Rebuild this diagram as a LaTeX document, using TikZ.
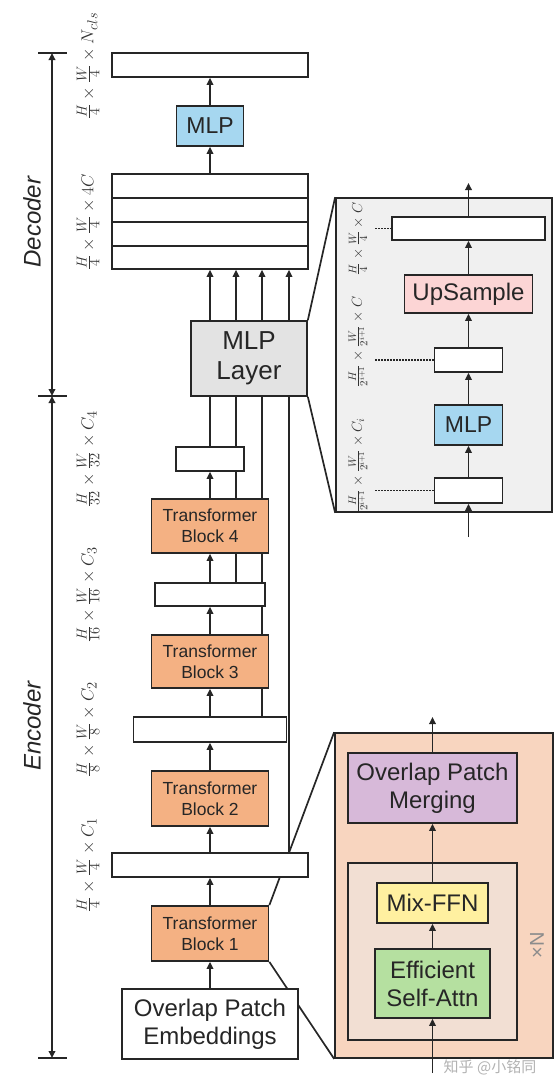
\documentclass[tikz,border=0pt]{standalone}
\usepackage[no-math]{fontspec}
\setmainfont{Liberation Sans}
\newfontfamily\cjk{Noto Sans CJK SC}
\usetikzlibrary{arrows.meta,calc}
\definecolor{cOrange}{HTML}{F4B183}
\definecolor{cBlue}{HTML}{A6D7F0}
\definecolor{cGray}{HTML}{E3E3E3}
\definecolor{cLight}{HTML}{F0F0F0}
\definecolor{cPink}{HTML}{FCD5D5}
\definecolor{cPeach}{HTML}{F8D5BF}
\definecolor{cInner}{HTML}{F2DFD3}
\definecolor{cPurple}{HTML}{D7B9D9}
\definecolor{cYellow}{HTML}{FFF0A0}
\definecolor{cGreen}{HTML}{B5E0A0}
\pgfdeclarelayer{bg}
\pgfsetlayers{bg,main}
\begin{document}
\begin{tikzpicture}[x=1pt,y=-1pt,
 box/.style={draw=black!85,line width=1.7pt,inner sep=0pt,align=center,text=black!85},
 stage/.style={box,fill=white},
 tblock/.style={box,fill=cOrange,minimum width=117pt,font=\fontsize{17.5}{21}\selectfont},
 big/.style={font=\fontsize{24}{28}\selectfont},
 lbl/.style={rotate=90,text=black!80,inner sep=0pt,font=\fontsize{19}{21}\selectfont},
 ilbl/.style={rotate=90,text=black!80,inner sep=0pt,font=\fontsize{15.5}{18}\selectfont},
 ttl/.style={rotate=90,inner sep=0pt,text=black!85,font=\fontsize{24}{28}\selectfont\itshape},
 arr/.style={line width=1.7pt,draw=black!85,-{Triangle[length=7pt,width=6.5pt]}},
 dblarr/.style={line width=1.7pt,draw=black!85,{Triangle[length=7pt,width=6.5pt]}-{Triangle[length=7pt,width=6.5pt]}},
 ln/.style={line width=1.7pt,draw=black!85},
 dotln/.style={line width=1.7pt,draw=black!85,dash pattern=on 1.5pt off 1.5pt}]
\useasboundingbox (0,0) rectangle (556,1092);

% ---------- decoder ----------
\node[stage,minimum width=196pt,minimum height=24pt] (out) at (210,65) {};
\node[box,fill=cBlue,minimum width=67pt,minimum height=40pt,font=\fontsize{23}{26}\selectfont] (mlpd) at (210,126) {MLP};
\node[stage,minimum width=196pt,minimum height=24pt] (cat1) at (210,186) {};
\node[stage,minimum width=196pt,minimum height=24pt] (cat2) at (210,210) {};
\node[stage,minimum width=196pt,minimum height=24pt] (cat3) at (210,234) {};
\node[stage,minimum width=196pt,minimum height=23pt] (cat4) at (210,257.5) {};
\node[box,fill=cGray,minimum width=116pt,minimum height=75pt,font=\fontsize{26}{30}\selectfont] (mlpl) at (249,358.5) {MLP\\Layer};

% ---------- encoder ----------
\node[stage,minimum width=68pt,minimum height=24pt] (s4) at (210,459) {};
\node[tblock,minimum height=54pt] (b4) at (210,526) {Transformer\\Block 4};
\node[stage,minimum width=110pt,minimum height=23pt] (s3) at (210,594.5) {};
\node[tblock,minimum height=53pt] (b3) at (210,661.5) {Transformer\\Block 3};
\node[stage,minimum width=153pt,minimum height=25pt] (s2) at (210,729.5) {};
\node[tblock,minimum height=55pt] (b2) at (210,798.5) {Transformer\\Block 2};
\node[stage,minimum width=196pt,minimum height=24pt] (s1) at (210,865) {};
\node[tblock,minimum height=55pt] (b1) at (210,933.5) {Transformer\\Block 1};
\node[stage,big,minimum width=176pt,minimum height=70pt] (ope) at (210,1024) {Overlap Patch\\Embeddings};

% ---------- size labels ----------
\node[lbl] (l0) at (88,66) {$\frac{H}{4}\times\frac{W}{4}\times N_{cls}$};
\node[lbl] (l1) at (88,222) {$\frac{H}{4}\times\frac{W}{4}\times 4C$};
\node[lbl] (l2) at (88,459) {$\frac{H}{32}\times\frac{W}{32}\times C_4$};
\node[lbl] (l3) at (88,594.5) {$\frac{H}{16}\times\frac{W}{16}\times C_3$};
\node[lbl] (l4) at (88,729.5) {$\frac{H}{8}\times\frac{W}{8}\times C_2$};
\node[lbl] (l5) at (88,865) {$\frac{H}{4}\times\frac{W}{4}\times C_1$};

\node[ttl] (dec) at (32,222) {Decoder};
\node[ttl] (enc) at (32,726) {Encoder};

% ---------- axis ----------
\coordinate (dt) at (52,53);
\coordinate (dm) at (52,396);
\coordinate (db) at (52,1058);
\draw[ln] ($(dt)+(-14,0)$) -- ($(dt)+(15,0)$);
\draw[ln] ($(dm)+(-14,0)$) -- ($(dm)+(15,0)$);
\draw[ln] ($(db)+(-14,0)$) -- ($(db)+(15,0)$);
\draw[dblarr] (dt) -- (dm);
\draw[dblarr] (dm) -- (db);

% ---------- inset 1 : MLP layer ----------
\node[box,fill=cLight,minimum width=216pt,minimum height=314pt] (ins1) at (444,355) {};
\node[stage,minimum width=153pt,minimum height=23pt] (it) at (468.5,228.5) {};
\node[box,fill=cPink,big,minimum width=128pt,minimum height=38pt] (up) at (468.5,294) {UpSample};
\node[stage,minimum width=68pt,minimum height=24pt] (im) at (468.5,360) {};
\node[box,fill=cBlue,minimum width=68pt,minimum height=40pt,font=\fontsize{23}{26}\selectfont] (imlp) at (468.5,425) {MLP};
\node[stage,minimum width=68pt,minimum height=25pt] (ib) at (468.5,490.5) {};
\coordinate (i1in) at (468.5,537);
\coordinate (i1out) at (468.5,183);
\draw[arr] (i1in) -- (ib.south);
\draw[arr] (ib.north) -- (imlp.south);
\draw[arr] (imlp.north) -- (im.south);
\draw[arr] (im.north) -- (up.south);
\draw[arr] (up.north) -- (it.south);
\draw[arr] (it.north) -- (i1out);
\coordinate (d1) at (375,228.5);
\coordinate (d2) at (375,360);
\coordinate (d3) at (375,490.5);
\draw[dotln] (d1) -- (it.west);
\draw[dotln] (d2) -- (im.west);
\draw[dotln] (d3) -- (ib.west);
\node[ilbl] (il1) at (358,239) {$\frac{H}{4}\times\frac{W}{4}\times C$};
\node[ilbl] (il2) at (358,342) {$\frac{H}{2^{i+1}}\times\frac{W}{2^{i+1}}\times C$};
\node[ilbl] (il3) at (358,465) {$\frac{H}{2^{i+1}}\times\frac{W}{2^{i+1}}\times C_i$};

% ---------- inset 2 : transformer block ----------
\node[box,fill=cPeach,minimum width=218pt,minimum height=325pt] (ins2) at (444,895.5) {};
\node[box,fill=cPurple,big,minimum width=169pt,minimum height=70pt] (opm) at (432.5,788) {Overlap Patch\\Merging};
\node[box,fill=cInner,minimum width=169pt,minimum height=177pt] (inner) at (432.5,951.5) {};
\node[box,fill=cYellow,big,minimum width=111pt,minimum height=40pt] (ffn) at (432.5,903) {Mix-FFN};
\node[box,fill=cGreen,big,minimum width=115pt,minimum height=69pt] (esa) at (432.5,983.5) {Efficient\\Self-Attn};
\coordinate (i2in) at (432.5,1073);
\coordinate (i2out) at (432.5,717);
\draw[arr] (i2in) -- (esa.south);
\draw[arr] (esa.north) -- (ffn.south);
\draw[arr] (ffn.north) -- (opm.south);
\draw[arr] (opm.north) -- (i2out);
\node[rotate=90,text=black!45,inner sep=0pt,font=\fontsize{20}{22}\selectfont] (xn) at (537,945) {×N};
\node[text=black!30,inner sep=0pt,font=\cjk\fontsize{15}{17}\selectfont] (wm) at (490,1067) {知乎 @小铭同};

% ---------- background connectors ----------
\begin{pgfonlayer}{bg}
\coordinate (k2) at (236,0);
\coordinate (k3) at (262,0);
\coordinate (k4) at (289,0);
\draw[arr] (ope.north) -- (b1.south);
\draw[arr] (b1.north) -- (s1.south);
\draw[arr] (s1.north) -- (b2.south);
\draw[arr] (b2.north) -- (s2.south);
\draw[arr] (s2.north) -- (b3.south);
\draw[arr] (b3.north) -- (s3.south);
\draw[arr] (s3.north) -- (b4.south);
\draw[arr] (b4.north) -- (s4.south);
\draw[arr] (s4.north) -- (cat4.south);
\draw[arr] (s3.north -| k2) -- (cat4.south -| k2);
\draw[arr] (s2.north -| k3) -- (cat4.south -| k3);
\draw[arr] (s1.north -| k4) -- (cat4.south -| k4);
\draw[arr] (cat1.north) -- (mlpd.south);
\draw[arr] (mlpd.north) -- (out.south);
\draw[ln] (mlpl.north east) -- (ins1.north west);
\draw[ln] (mlpl.south east) -- (ins1.south west);
\draw[ln] (b1.north east) -- (ins2.north west);
\draw[ln] (b1.south east) -- (ins2.south west);
\end{pgfonlayer}
\end{tikzpicture}
\end{document}
